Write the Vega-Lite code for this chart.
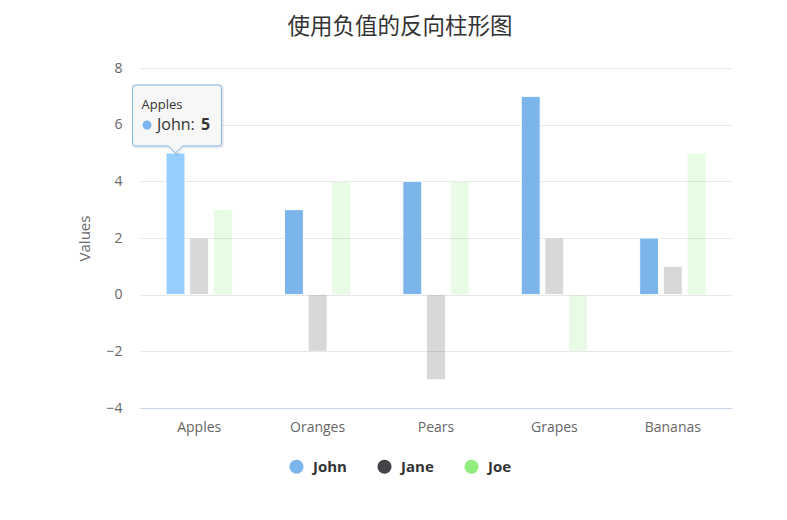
{
  "$schema": "https://vega.github.io/schema/vega-lite/v6.json",
  "width": 592,
  "height": 340,
  "autosize": {"type": "none"},
  "padding": {"left": 140, "top": 68, "right": 55, "bottom": 112},
  "background": "#ffffff",
  "title": {
    "text": "使用负值的反向柱形图",
    "font": "Noto Sans CJK SC",
    "fontSize": 22.5,
    "fontWeight": "normal",
    "color": "#333333",
    "anchor": "middle",
    "frame": "group",
    "dx": -36,
    "offset": 23
  },
  "datasets": {
    "fruit": [
      {"fruit": "Apples", "series": "John", "value": 5},
      {"fruit": "Oranges", "series": "John", "value": 3},
      {"fruit": "Pears", "series": "John", "value": 4},
      {"fruit": "Grapes", "series": "John", "value": 7},
      {"fruit": "Bananas", "series": "John", "value": 2},
      {"fruit": "Apples", "series": "Jane", "value": 2},
      {"fruit": "Oranges", "series": "Jane", "value": -2},
      {"fruit": "Pears", "series": "Jane", "value": -3},
      {"fruit": "Grapes", "series": "Jane", "value": 2},
      {"fruit": "Bananas", "series": "Jane", "value": 1},
      {"fruit": "Apples", "series": "Joe", "value": 3},
      {"fruit": "Oranges", "series": "Joe", "value": 4},
      {"fruit": "Pears", "series": "Joe", "value": 4},
      {"fruit": "Grapes", "series": "Joe", "value": -2},
      {"fruit": "Bananas", "series": "Joe", "value": 5}
    ],
    "hover": [
      {"fruit": "Apples", "series": "John", "value": 5}
    ]
  },
  "encoding": {
    "x": {
      "field": "fruit",
      "type": "nominal",
      "sort": ["Apples", "Oranges", "Pears", "Grapes", "Bananas"],
      "scale": {"paddingInner": 0.4, "paddingOuter": 0.2},
      "axis": {
        "title": null,
        "labelAngle": 0,
        "labelFontSize": 14,
        "labelColor": "#666666",
        "labelPadding": 12,
        "ticks": false,
        "domainColor": "#ccd6eb",
        "grid": false
      }
    },
    "xOffset": {
      "field": "series",
      "type": "nominal",
      "sort": ["John", "Jane", "Joe"],
      "scale": {"paddingInner": 0.2, "paddingOuter": 0.1}
    },
    "y": {
      "field": "value",
      "type": "quantitative",
      "scale": {"domain": [-4, 8], "nice": false},
      "axis": {
        "title": "Values",
        "titleFontSize": 15,
        "titleFontWeight": "normal",
        "titleColor": "#666666",
        "titleX": -56,
        "titleY": 170,
        "titleAlign": "center",
        "titleBaseline": "middle",
        "values": [-4, -2, 0, 2, 4, 6, 8],
        "labelFontSize": 14,
        "labelColor": "#666666",
        "labelPadding": 18,
        "ticks": false,
        "domain": false,
        "gridColor": "#e6e6e6"
      }
    }
  },
  "layer": [
    {
      "data": {"name": "fruit"},
      "mark": {"type": "bar", "stroke": "#ffffff", "strokeWidth": 1},
      "encoding": {
        "color": {
          "condition": {"test": "datum.fruit === 'Apples' && datum.series === 'John'", "value": "#95ceff"},
          "field": "series",
          "type": "nominal",
          "scale": {"domain": ["John", "Jane", "Joe"], "range": ["#7cb5ec", "#434348", "#90ed7d"]},
          "legend": {
            "title": null,
            "orient": "none",
            "direction": "horizontal",
            "legendX": 149,
            "legendY": 391,
            "padding": 0,
            "symbolType": "circle",
            "symbolSize": 200,
            "symbolStrokeWidth": 0,
            "symbolOpacity": 1,
            "labelFontSize": 15,
            "labelFontWeight": "bold",
            "labelColor": "#333333",
            "labelOffset": 9,
            "columnPadding": 30
          }
        },
        "opacity": {
          "condition": {"test": "datum.series === 'John'", "value": 1},
          "value": 0.2
        }
      }
    },
    {
      "data": {"name": "hover"},
      "mark": {
        "type": "point",
        "shape": "M -39 -67 L 44 -67 Q 47 -67 47 -64 L 47 -9 Q 47 -6 44 -6 L 8 -6 L 1 1 L -6 -6 L -39 -6 Q -42 -6 -42 -9 L -42 -64 Q -42 -67 -39 -67 Z",
        "size": 4,
        "filled": false,
        "stroke": "#000000",
        "strokeOpacity": 0.08,
        "strokeWidth": 3,
        "opacity": 1
      },
      "encoding": {}
    },
    {
      "data": {"name": "hover"},
      "mark": {
        "type": "point",
        "shape": "M -40 -68 L 43 -68 Q 46 -68 46 -65 L 46 -10 Q 46 -7 43 -7 L 7 -7 L 0 0 L -7 -7 L -40 -7 Q -43 -7 -43 -10 L -43 -65 Q -43 -68 -40 -68 Z",
        "size": 4,
        "filled": true,
        "fill": "#f7f7f7",
        "fillOpacity": 1,
        "stroke": "#7cb5ec",
        "strokeWidth": 1,
        "opacity": 1
      },
      "encoding": {}
    },
    {
      "data": {"name": "hover"},
      "mark": {
        "type": "point",
        "shape": "M -33 -28 A 4.5 4.5 0 1 0 -24 -28 A 4.5 4.5 0 1 0 -33 -28 Z",
        "size": 4,
        "filled": true,
        "fill": "#7cb5ec",
        "strokeWidth": 0,
        "opacity": 1
      },
      "encoding": {}
    },
    {
      "data": {"name": "hover"},
      "mark": {"type": "text", "align": "left", "baseline": "alphabetic", "dx": -34, "dy": -44, "fontSize": 13, "color": "#333333"},
      "encoding": {"text": {"field": "fruit"}}
    },
    {
      "data": {"name": "hover"},
      "transform": [{"calculate": "datum.series + ':'", "as": "label"}],
      "mark": {"type": "text", "align": "left", "baseline": "alphabetic", "dx": -18.5, "dy": -23, "fontSize": 16, "color": "#333333"},
      "encoding": {"text": {"field": "label"}}
    },
    {
      "data": {"name": "hover"},
      "mark": {"type": "text", "align": "left", "baseline": "alphabetic", "dx": 25.5, "dy": -23, "fontSize": 16, "fontWeight": "bold", "color": "#333333"},
      "encoding": {"text": {"field": "value", "type": "quantitative"}}
    }
  ],
  "config": {
    "font": "Open Sans",
    "view": {"stroke": null}
  }
}
